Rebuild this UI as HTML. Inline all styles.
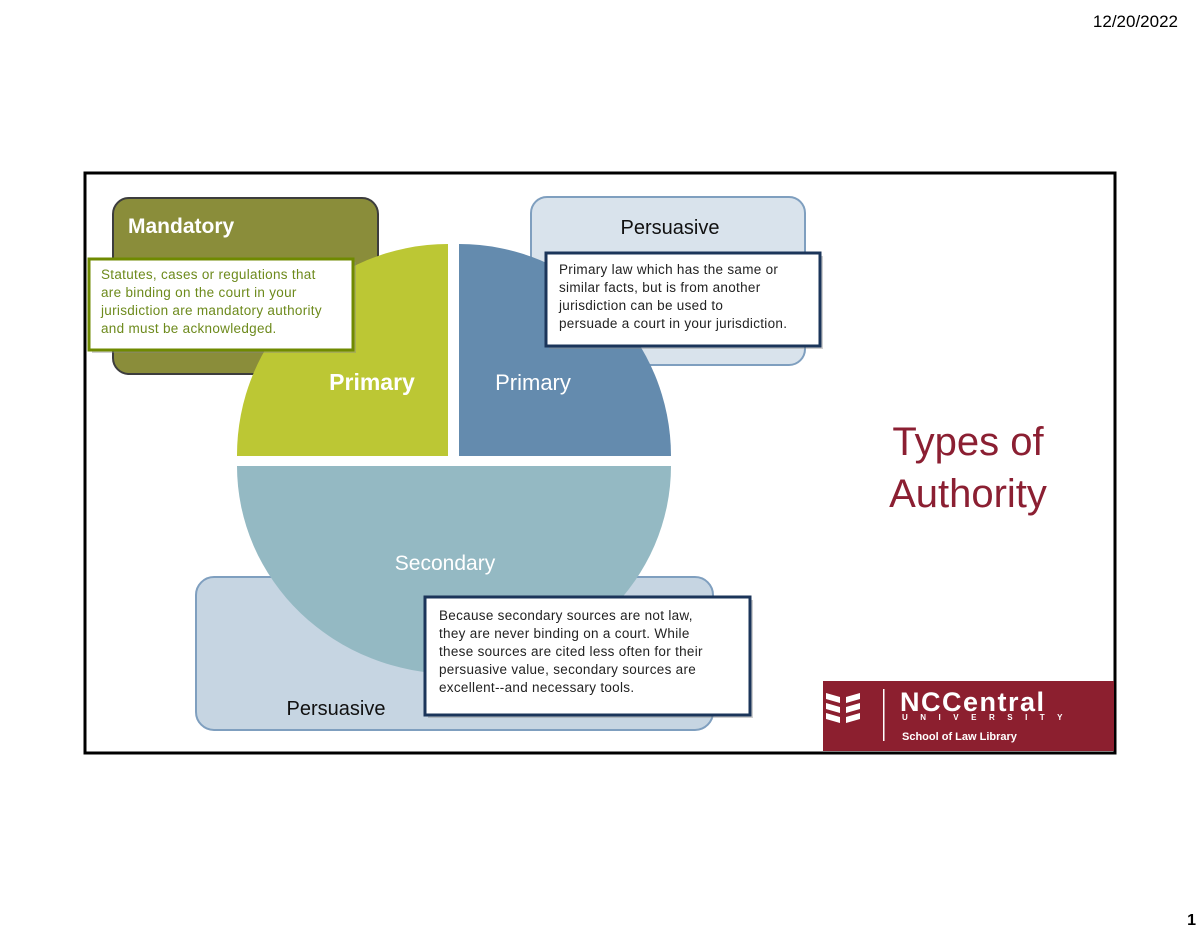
<!DOCTYPE html>
<html><head><meta charset="utf-8"><style>
html,body{margin:0;padding:0;background:#fff;width:1200px;height:927px;overflow:hidden}
svg{display:block}
</style></head><body>
<svg width="1200" height="927" viewBox="0 0 1200 927" xmlns="http://www.w3.org/2000/svg" font-family="Liberation Sans, sans-serif">
<text x="1178" y="27" font-size="17" text-anchor="end" fill="#000">12/20/2022</text>
<text x="1196" y="925" font-size="16" font-weight="bold" text-anchor="end" fill="#000">1</text>
<rect x="85" y="173" width="1030" height="580" fill="#fff" stroke="#000" stroke-width="3"/>
<rect x="113" y="198" width="265" height="176" rx="16" fill="#8a8d3a" stroke="#3d3d3d" stroke-width="2"/>
<text x="128" y="233" font-size="21" font-weight="bold" fill="#fff">Mandatory</text>
<rect x="531" y="197" width="274" height="168" rx="16" fill="#d9e3ec" stroke="#7f9fbf" stroke-width="2"/>
<text x="670" y="234" font-size="20" text-anchor="middle" fill="#111">Persuasive</text>
<rect x="196" y="577" width="517" height="153" rx="18" fill="#c6d5e2" stroke="#7f9fbf" stroke-width="2"/>
<text x="336" y="715" font-size="20" text-anchor="middle" fill="#111">Persuasive</text>
<path d="M448,456 L237,456 A211,211 0 0 1 448,244 Z" fill="#bcc734"/>
<path d="M459,456 L459,244 A212,212 0 0 1 671,456 Z" fill="#648bae"/>
<path d="M237,466 L671,466 A217,208 0 0 1 237,466 Z" fill="#94b9c3"/>
<text x="372" y="390" font-size="23" font-weight="bold" text-anchor="middle" fill="#fff">Primary</text>
<text x="533" y="390" font-size="22" text-anchor="middle" fill="#fff">Primary</text>
<text x="445" y="570" font-size="21" text-anchor="middle" fill="#fff">Secondary</text>
<rect x="92" y="262" width="264" height="91" fill="#888" opacity="0.4"/>
<rect x="89" y="259" width="264" height="91" fill="#fff" stroke="#6f8a00" stroke-width="3"/>
<g font-size="13.5" fill="#6d8a1c" letter-spacing="0.3">
<text x="101" y="279">Statutes, cases or regulations that</text>
<text x="101" y="297">are binding on the court in your</text>
<text x="101" y="315">jurisdiction are mandatory authority</text>
<text x="101" y="333">and must be acknowledged.</text>
</g>
<rect x="549" y="256" width="274" height="93" fill="#888" opacity="0.4"/>
<rect x="546" y="253" width="274" height="93" fill="#fff" stroke="#1b355a" stroke-width="3"/>
<g font-size="13.5" fill="#222" letter-spacing="0.3">
<text x="559" y="274">Primary law which has the same or</text>
<text x="559" y="292">similar facts, but is from another</text>
<text x="559" y="310">jurisdiction can be used to</text>
<text x="559" y="328">persuade a court in your jurisdiction.</text>
</g>
<rect x="428" y="600" width="325" height="118" fill="#888" opacity="0.4"/>
<rect x="425" y="597" width="325" height="118" fill="#fff" stroke="#1b355a" stroke-width="3"/>
<g font-size="13.5" fill="#222" letter-spacing="0.3">
<text x="439" y="620">Because secondary sources are not law,</text>
<text x="439" y="638">they are never binding on a court.  While</text>
<text x="439" y="656">these sources are cited less often for their</text>
<text x="439" y="674">persuasive value, secondary sources are</text>
<text x="439" y="692">excellent--and necessary tools.</text>
</g>
<text x="968" y="455" font-size="40" text-anchor="middle" fill="#8b1f32">Types of</text>
<text x="968" y="507" font-size="40" text-anchor="middle" fill="#8b1f32">Authority</text>
<rect x="823" y="681" width="291" height="70" fill="#8c1f2f"/>
<g fill="#fff">
<path d="M826,693 l14,4 l0,6 l-14,-4z M826,703 l14,4 l0,6 l-14,-4z M826,713 l14,4 l0,6 l-14,-4z"/>
<path d="M846,697 l14,-4 l0,6 l-14,4z M846,707 l14,-4 l0,6 l-14,4z M846,717 l14,-4 l0,6 l-14,4z"/>
</g>
<rect x="883" y="689" width="1.5" height="52" fill="#fff"/>
<text x="900" y="711" font-size="27" font-weight="bold" fill="#fff" letter-spacing="1.5">NCCentral</text>
<text x="902" y="720" font-size="8" font-weight="bold" fill="#fff" letter-spacing="12.5">UNIVERSITY</text>
<text x="902" y="740" font-size="11" font-weight="bold" fill="#fff">School of Law Library</text>
</svg>
</body></html>
